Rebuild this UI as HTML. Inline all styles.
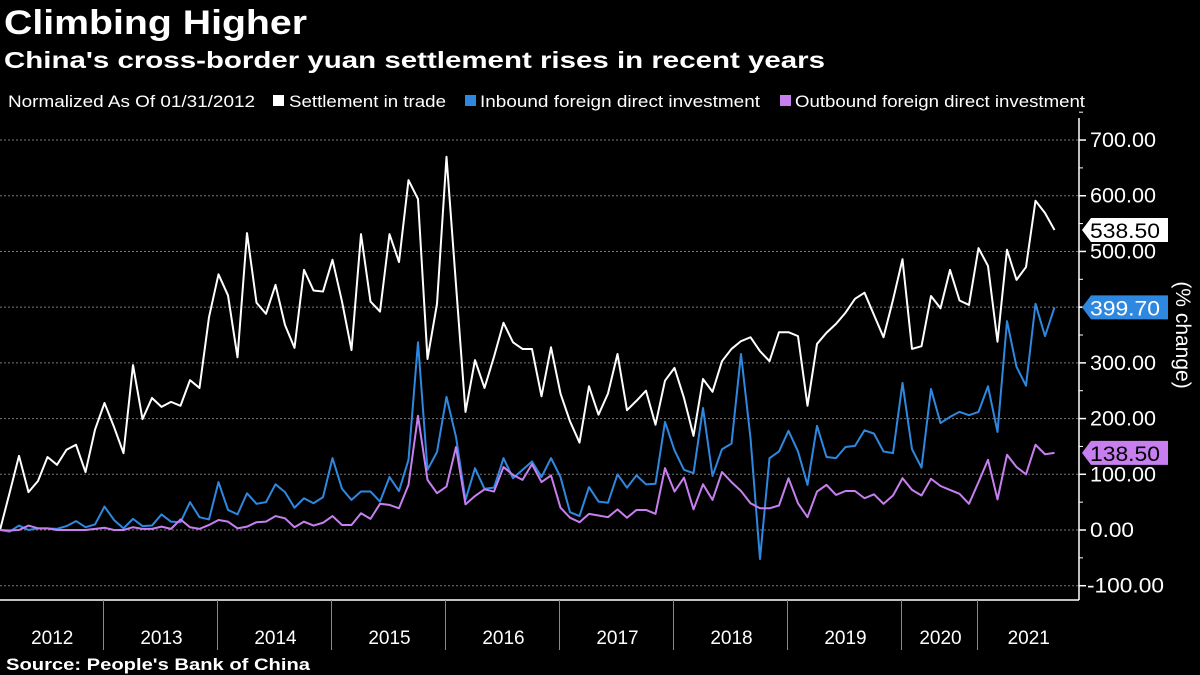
<!DOCTYPE html>
<html><head><meta charset="utf-8"><style>
body{margin:0;background:#000;width:1200px;height:675px;overflow:hidden;font-family:"Liberation Sans",sans-serif;color:#fff}
svg{position:absolute;left:0;top:0}
</style></head><body>
<svg width="1200" height="675">
<text x="4" y="34" font-size="34" font-weight="bold" fill="#fff" textLength="303" lengthAdjust="spacingAndGlyphs">Climbing Higher</text>
<text x="4" y="68" font-size="23" font-weight="bold" fill="#fff" textLength="821" lengthAdjust="spacingAndGlyphs">China's cross-border yuan settlement rises in recent years</text>
<g id="legend" font-size="17" fill="#fff">
<text x="8" y="107" textLength="247" lengthAdjust="spacingAndGlyphs">Normalized As Of 01/31/2012</text>
<rect x="273" y="95" width="11" height="11" fill="#fff"/>
<text x="289" y="107" textLength="157" lengthAdjust="spacingAndGlyphs">Settlement in trade</text>
<rect x="465" y="95" width="11" height="11" fill="#2f88e0"/>
<text x="480" y="107" textLength="280" lengthAdjust="spacingAndGlyphs">Inbound foreign direct investment</text>
<rect x="780" y="95" width="11" height="11" fill="#c77ff0"/>
<text x="795" y="107" textLength="290" lengthAdjust="spacingAndGlyphs">Outbound foreign direct investment</text>
</g>
<g id="grid"></g><g id="axes"></g><g id="series"></g><g id="labels"></g>
<text transform="translate(1176,335) rotate(90)" font-size="21" fill="#fff" text-anchor="middle">(% change)</text>
<text x="6" y="670" font-size="17" font-weight="bold" fill="#fff" textLength="304" lengthAdjust="spacingAndGlyphs">Source: People's Bank of China</text>
</svg>
<script>
const trade=[0,66,133,68,88,131,117,144,153,104,180,228,185,138,296,199,237,221,230,223,269,255,382,459,421,310,533,408,388,440,368,327,467,430,428,485,410,323,531,410,392,531,481,628,594,307,406,670,440,212,305,255,311,372,337,325,325,240,328,245,195,157,258,207,245,316,215,232,250,189,268,291,237,169,271,248,303,325,339,346,321,303,355,355,348,223,334,354,370,390,415,426,386,346,413,486,325,330,420,398,467,412,404,506,474,338,503,449,472,591,569,538.5];
const inbound=[0,-3,8,0,3,3,2,7,16,5,10,42,18,3,20,7,8,28,15,14,50,23,19,86,36,28,66,47,50,82,68,40,57,48,59,129,74,54,69,69,51,95,70,126,337,108,140,239,167,54,111,74,76,129,93,108,123,95,129,95,32,25,77,51,49,100,76,98,82,83,194,143,108,102,219,97,145,155,316,165,-52,129,141,178,141,81,187,131,129,149,151,179,173,141,138,264,145,112,253,192,203,212,206,212,258,176,375,293,259,406,348,399.7];
const outbound=[0,-1,0,8,3,3,0,0,0,0,2,4,0,0,5,2,2,6,2,19,5,2,9,18,15,3,6,14,15,25,21,5,15,8,13,25,9,9,30,20,47,45,39,81,205,90,66,78,149,46,61,73,69,113,99,90,118,86,98,40,22,14,29,26,23,37,22,36,36,29,111,69,94,37,82,54,104,86,70,48,39,39,44,93,48,23,69,81,63,70,70,57,64,47,62,93,72,62,92,79,72,65,47,86,126,55,135,113,100,153,136,138.5];
const years=["2012","2013","2014","2015","2016","2017","2018","2019","2020","2021"];
const yearStarts=[0,11,23,35,47,59,71,83,95,103];
const yTicks=[-100,0,100,200,300,400,500,600,700];
const lastLabels=["538.50","399.70","138.50"];
const NS="http://www.w3.org/2000/svg";
const dx=9.5, plotR=1079, plotB=600, plotT=118;
const X=i=>i*dx;
const Y=v=>530-v*0.5571;
function mk(tag,attrs,parent){const e=document.createElementNS(NS,tag);for(const k in attrs)e.setAttribute(k,attrs[k]);parent.appendChild(e);return e;}
const grid=document.getElementById('grid'),axes=document.getElementById('axes'),ser=document.getElementById('series'),lab=document.getElementById('labels');
yTicks.forEach(t=>{
  const l=mk('line',{x1:0,x2:plotR,y1:Y(t),y2:Y(t),stroke:'#777','stroke-width':1,'stroke-dasharray':'2,2'},grid);
  
  
  const tk=mk('line',{x1:plotR,x2:plotR+7,y1:Y(t),y2:Y(t),stroke:'#fff','stroke-width':1.5},axes);
  
  
  const mt=mk('line',{x1:plotR,x2:plotR+4,y1:Y(t+50),y2:Y(t+50),stroke:'#fff','stroke-width':1},axes);
  
  
  const s=t.toFixed(2);
  const tx=mk('text',{x:plotR+(t<0?8:11),y:Y(t)+7,'font-size':21,fill:'#fff',textLength:s.length*11,lengthAdjust:'spacingAndGlyphs'},axes);
  tx.textContent=s;
  
  
});
let a=mk('line',{x1:plotR,x2:plotR,y1:plotT,y2:plotB,stroke:'#fff','stroke-width':1.5},axes);


a=mk('line',{x1:0,x2:plotR,y1:plotB,y2:plotB,stroke:'#fff','stroke-width':1.5},axes);


years.forEach((y,k)=>{
  const s=yearStarts[k], e=k+1<yearStarts.length?yearStarts[k+1]:plotR/dx;
  if(k>0){const l=mk('line',{x1:X(s)-1,x2:X(s)-1,y1:plotB,y2:650,stroke:'#888','stroke-width':1},axes);
    
    }
  const t=mk('text',{x:(X(s)+X(e))/2,y:644,'font-size':19,fill:'#fff','text-anchor':'middle'},axes);
  t.textContent=y;
  
  
});
const series=[[trade,'#fff','trade-line'],[inbound,'#2f88e0','inbound-line'],[outbound,'#c77ff0','outbound-line']];
series.forEach(([d,c,n],si)=>{
  const p=mk('polyline',{points:d.map((v,i)=>X(i)+','+Y(v)).join(' '),fill:'none',stroke:c,'stroke-width':2,'stroke-linejoin':'round'},ser);
  
  
  const v=d[d.length-1], y=Y(v);
  const g=mk('g',{},lab);
  
  
  mk('polygon',{points:`${plotR+3},${y} ${plotR+12},${y-12} ${plotR+89},${y-12} ${plotR+89},${y+12} ${plotR+12},${y+12}`,fill:c},g);
  const t=mk('text',{x:plotR+11,y:y+8,'font-size':21,fill:si==1?'#fff':'#000',textLength:70,lengthAdjust:'spacingAndGlyphs'},g);
  t.textContent=lastLabels[si];
});
</script>
</body></html>
